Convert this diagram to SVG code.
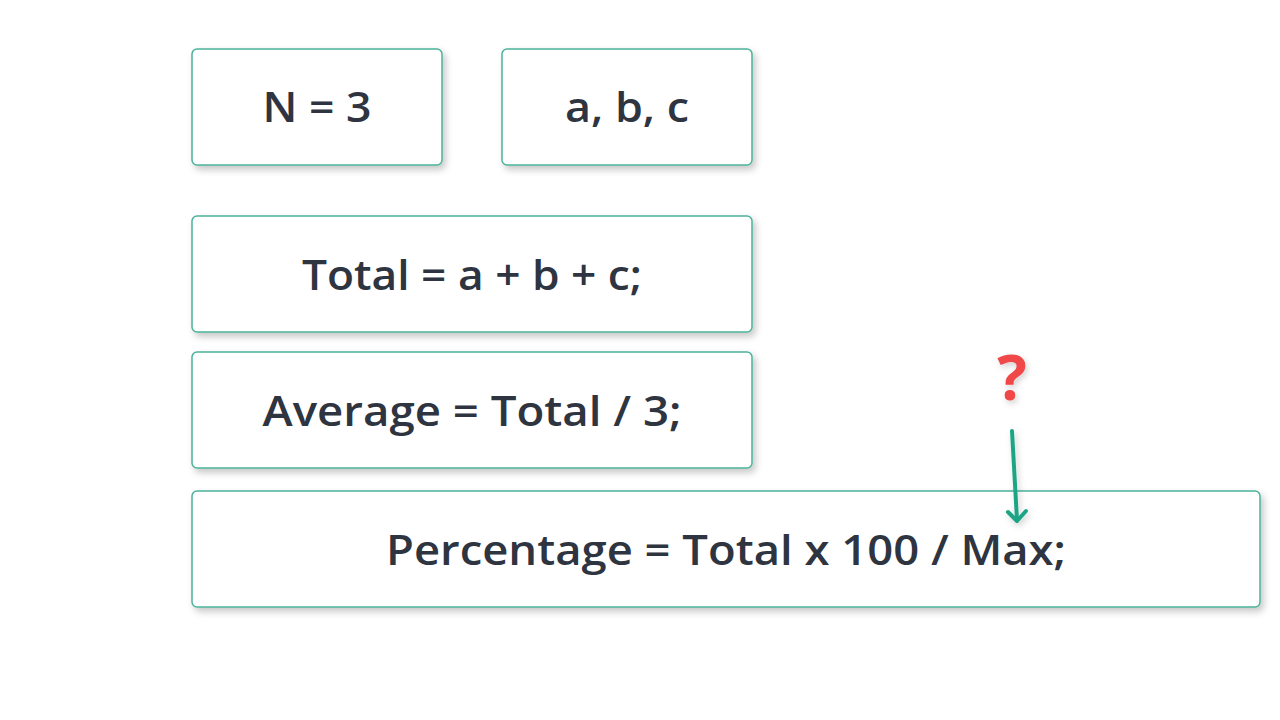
<svg xmlns="http://www.w3.org/2000/svg" width="1280" height="720" viewBox="0 0 1280 720">
<defs>
<filter id="sh" x="-10%" y="-20%" width="120%" height="150%">
<feDropShadow dx="3" dy="4" stdDeviation="3.5" flood-color="#000" flood-opacity="0.22"/>
</filter>
<filter id="tsh" x="-50%" y="-50%" width="200%" height="200%">
<feDropShadow dx="2" dy="3" stdDeviation="3" flood-color="#000" flood-opacity="0.18"/>
</filter>
</defs>
<style>
.box{fill:#fff;stroke:#4cb39b;stroke-width:1.5;filter:url(#sh)}
.t{font-family:"Open Sans","DejaVu Sans",sans-serif;font-weight:600;font-size:42px;fill:#2e3440;text-anchor:middle}
.arr{fill:none;stroke:#1fa585;stroke-width:4;stroke-linecap:round;stroke-linejoin:round}
</style>
<rect width="1280" height="720" fill="#fff"/>
<g id="node-n">
<rect class="box" x="192" y="49" width="250" height="116" rx="5"/>
<text class="t" x="317" y="122" textLength="109" lengthAdjust="spacingAndGlyphs">N = 3</text>
</g>
<g id="node-abc">
<rect class="box" x="502" y="49" width="250" height="116" rx="5"/>
<text class="t" x="627" y="122" textLength="124" lengthAdjust="spacingAndGlyphs">a, b, c</text>
</g>
<g id="node-total">
<rect class="box" x="192" y="216" width="560" height="116" rx="5"/>
<text class="t" x="472" y="290" textLength="340" lengthAdjust="spacingAndGlyphs">Total = a + b + c;</text>
</g>
<g id="node-average">
<rect class="box" x="192" y="352" width="560" height="116" rx="5"/>
<text class="t" x="472" y="426" textLength="419" lengthAdjust="spacingAndGlyphs">Average = Total / 3;</text>
</g>
<g id="node-percentage">
<rect class="box" x="192" y="491" width="1068" height="116" rx="5"/>
<text class="t" x="726" y="565" textLength="680" lengthAdjust="spacingAndGlyphs">Percentage = Total x 100 / Max;</text>
</g>
<g id="node-question">
<text x="1012" y="400" font-family="'Open Sans','DejaVu Sans',sans-serif" font-weight="700" font-size="62" fill="#f0464a" text-anchor="middle" filter="url(#tsh)">?</text>
</g>
<g id="connectors" filter="url(#tsh)">
<path class="arr" d="M1012,431 L1017,520"/>
<path class="arr" d="M1008,512 L1017,521 L1026,511"/>
</g>
</svg>
